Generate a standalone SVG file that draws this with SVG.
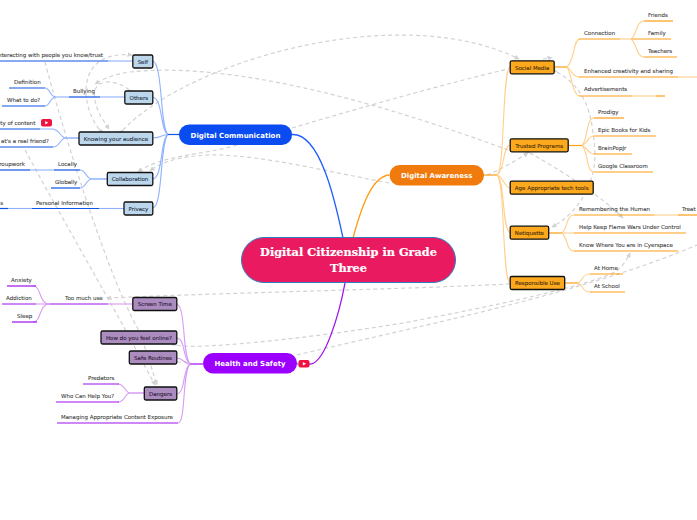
<svg xmlns="http://www.w3.org/2000/svg" width="697" height="520" viewBox="0 0 697 520">
<style>
text{font-family:"DejaVu Sans",sans-serif;font-size:5.5px;fill:#3a3a3a;stroke:#3a3a3a;stroke-width:.08}
.c{text-anchor:middle}
.box{stroke:#111;stroke-width:1.300}
.bl{fill:#bcd6ec}.pu{fill:#ab8cbf}.or{fill:#fca91e}
text.bt{fill:#1a2a3a;stroke:#1a2a3a}text.pt{fill:#2a1533;stroke:#2a1533}text.ot{fill:#40280a;stroke:#40280a}
text.main{font-size:7px;font-weight:bold;fill:#fff;stroke:none}
text.title{font-family:"DejaVu Serif",serif;font-size:11.300px;font-weight:bold;fill:#fff;stroke:#fff;stroke-width:.2}
#links path{fill:none;stroke:#d2d2d2;stroke-width:1.200;stroke-dasharray:4 3}
#conn path{fill:none;stroke-width:1.100}
.b{stroke:#8fb1ff}.p{stroke:#d79cf5}.o{stroke:#ffd08a}
.bu{stroke:#0f54e8!important;stroke-width:1.200!important}
.pl{stroke:#a010f0!important;stroke-width:1.200!important}
.ou{stroke:#ff9d14!important;stroke-width:1.200!important}
.yt{fill:#f0123f}
</style>
<defs>
<marker id="a" markerUnits="userSpaceOnUse" markerWidth="6" markerHeight="6" refX="4.500" refY="2.500" orient="auto"><path d="M0 0L5 2.500L0 5z" fill="#d2d2d2"/></marker>
</defs>
<g id="links">
<path d="M123 130C190 60 400 0 519 59" marker-start="url(#a)" marker-end="url(#a)"/>
<path d="M508 150C400 110 240 60 130 72C115 74 105 78 95 84" marker-end="url(#a)"/>
<path d="M292 128C360 108 440 85 508 69"/>
<path d="M389 183C320 170 240 150 195 156C175 158 160 163 150 171" marker-end="url(#a)"/>
<path d="M237 145C205 155 160 155 138 172" marker-end="url(#a)"/>
<path d="M99 129C80 105 75 50 132 55" marker-start="url(#a)" marker-end="url(#a)"/>
<path d="M129 90C115 78 90 78 95 100C97 112 103 120 109 129" marker-start="url(#a)" marker-end="url(#a)"/>
<path d="M45 62C60 120 105 270 137 327C145 345 152 370 157 385" marker-end="url(#a)"/>
<path d="M25 150L43 183L120 320L155 385" marker-end="url(#a)"/>
<path d="M510 284C380 290 250 292 107 298" marker-start="url(#a)" marker-end="url(#a)"/>
<path d="M297 355C400 330 580 295 697 245"/>
<path d="M177 345C190 350 300 340 403 323C500 305 590 285 615 272C622 267 627 260 630 253" marker-start="url(#a)" marker-end="url(#a)"/>
<path d="M177 362H190" marker-start="url(#a)"/>
<path d="M557 72C580 85 590 105 593 133C597 160 595 175 583 197C575 210 565 220 552 227" marker-start="url(#a)" marker-end="url(#a)"/>
<path d="M530 153C560 170 600 195 623 218" marker-start="url(#a)" marker-end="url(#a)"/>
<path d="M487 175C500 170 515 161 528 153" marker-end="url(#a)"/>
<path d="M543 59L552 57.500" marker-end="url(#a)"/>
</g>
<g id="conn">
<path d="M343 238C335 200 320 133 292 134.500" stroke="#1f5cff" style="stroke-width:1.300"/>
<path d="M353 238C362 205 372 177 389 175" stroke="#ff9d14" style="stroke-width:1.300"/>
<path d="M345 283C340 310 325 366 309 364" stroke="#a010f0" style="stroke-width:1.300"/>
<path d="M297 364H299" stroke="#a010f0"/>
<path class="bu" d="M168 134.500H179"/>
<path class="b" d="M153 61C163 65 160 130 168 134.500"/>
<path class="b" d="M153 97C163 100 160 130 168 134.500"/>
<path class="b" d="M153 138C160 138 162 134.500 168 134.500"/>
<path class="b" d="M153 179C163 177 160 140 168 134.500"/>
<path class="b" d="M153 208C163 206 160 140 168 134.500"/>
<path class="b" d="M108 61H132"/><path class="bu" d="M0 61H108"/>
<path class="b" d="M100 97H124"/><path class="bu" d="M69 97H100"/><path class="b" d="M56 97H69"/>
<path class="b" d="M56 97C50 97 50 88 45 88"/><path class="bu" d="M9 88H45"/>
<path class="b" d="M56 97C50 97 50 106 45 106"/><path class="bu" d="M2 106H45"/>
<path class="b" d="M79 138H66C60 138 60 129 52 129H40"/><path class="bu" d="M0 129H40"/>
<path class="b" d="M79 138H66C60 138 60 147 53 147"/><path class="bu" d="M0 147H53"/>
<path class="b" d="M107 179H92C86 179 86 170 80 170"/><path class="bu" d="M54 170H80"/><path class="b" d="M54 170H30"/><path class="bu" d="M0 170H30"/>
<path class="b" d="M107 179H92C86 179 86 188 80 188"/><path class="bu" d="M51 188H80"/>
<path class="b" d="M99 208.500H124"/><path class="bu" d="M32 208.500H99"/><path class="b" d="M32 208.500H8"/><path class="bu" d="M0 208.500H8"/>
<path class="pl" d="M190 364H203"/>
<path class="p" d="M177 304C186 308 182 355 190 364"/>
<path class="p" d="M177 338C186 340 182 358 190 364"/>
<path class="p" d="M177 358C183 358 184 364 190 364"/>
<path class="p" d="M177 394C186 392 182 370 190 364"/>
<path class="p" d="M178 423C186 423 182 372 190 364"/>
<path class="p" d="M108 304H132"/><path class="pl" d="M50 304H108"/>
<path class="p" d="M50 304C38 304 42 286 33 286"/><path class="pl" d="M7 286H36"/>
<path class="p" d="M50 304H36"/><path class="pl" d="M2 304H36"/>
<path class="p" d="M50 304C38 304 42 322 33 322"/><path class="pl" d="M12 322H37"/>
<path class="p" d="M144 393H130C125 393 125 384 118 384"/><path class="pl" d="M83 384H119"/>
<path class="p" d="M144 393H130C125 393 125 402 118 402"/><path class="pl" d="M56 402H119"/>
<path class="pl" d="M57 423H178"/>
<path class="ou" d="M484 175H497"/>
<path class="o" d="M497 175C505 170 502 70 510 67"/>
<path class="o" d="M497 175C505 170 502 148 510 145"/>
<path class="o" d="M497 175C503 176 504 187 510 188"/>
<path class="o" d="M497 175C505 180 502 230 510 232.500"/>
<path class="o" d="M497 175C505 180 502 280 510 283"/>
<path class="ou" d="M554 67H567"/>
<path class="o" d="M567 67C575 60 573 39 580 39"/>
<path class="o" d="M567 67C572 70 572 77 580 77"/>
<path class="o" d="M567 67C572 75 572 95 580 96"/>
<path class="ou" d="M579 39H620"/><path class="o" d="M620 39H631"/>
<path class="o" d="M631 39C637 35 636 21 644 21"/><path class="ou" d="M644 21H673"/>
<path class="ou" d="M631 39H671"/>
<path class="o" d="M631 39C637 43 636 57 644 57"/><path class="ou" d="M644 57H677"/>
<path class="ou" d="M579 77H678"/><path class="o" d="M678 77H697"/>
<path class="ou" d="M579 96H632"/><path class="o" d="M632 96H656"/><path class="ou" d="M656 96H665"/>
<path class="ou" d="M568 145.500H582"/>
<path class="o" d="M582 145.500C588 140 586 118 594 118"/>
<path class="o" d="M582 145.500C588 143 588 136 594 136"/>
<path class="o" d="M582 145.500C588 148 588 154 594 154"/>
<path class="o" d="M582 145.500C588 150 586 172 594 172"/>
<path class="ou" d="M594 118H624"/><path class="ou" d="M594 136H656"/><path class="ou" d="M594 154H632"/><path class="ou" d="M594 172H653"/>
<path class="ou" d="M549 233H562"/>
<path class="o" d="M562 233C568 228 566 215 574 215"/>
<path class="o" d="M562 233H574"/>
<path class="o" d="M562 233C568 238 566 251 574 251"/>
<path class="ou" d="M574 215H654"/><path class="o" d="M654 215H678"/><path class="ou" d="M678 215H697"/>
<path class="ou" d="M574 233H686"/>
<path class="ou" d="M574 251H678"/>
<path class="ou" d="M565 283H578"/>
<path class="o" d="M578 283C584 280 582 274 590 274"/>
<path class="o" d="M578 283C584 286 582 292 590 292"/>
<path class="ou" d="M590 274H623"/><path class="ou" d="M590 292H625"/>
</g>
<g id="central"><rect x="241.500" y="237.500" width="214" height="45" rx="22.500" fill="#e91a5f" stroke="#2b7fc0" stroke-width="1"/>
<text class="c title" x="348.500" y="255.500">Digital Citizenship in Grade</text>
<text class="c title" x="348.500" y="272">Three</text></g>
<g id="digital-communication"><rect x="179" y="124.500" width="113" height="20.500" rx="10" fill="#0a4cf0"/><text class="c main" x="235.500" y="137.500">Digital Communication</text></g>
<g id="digital-awareness"><rect x="389.500" y="165" width="94.500" height="20.500" rx="10" fill="#f17a0c"/><text class="c main" x="436.700" y="178">Digital Awareness</text></g>
<g id="health-safety"><rect x="203" y="353" width="94" height="20.500" rx="10" fill="#9b00ff"/><text class="c main" x="250" y="366">Health and Safety</text><rect x="298.500" y="360" width="11" height="7.500" rx="2" class="yt"/><path d="M302.800 362L306 363.700L302.800 365.500z" fill="#fff"/></g>
<g id="self"><rect class="box bl" x="132.800" y="55" width="20" height="13" rx="1.500"/><text class="c bt" x="142.800" y="63.800">Self</text></g>
<g id="others"><rect class="box bl" x="124.800" y="91" width="28" height="13" rx="1.500"/><text class="c bt" x="138.800" y="99.800">Others</text></g>
<g id="knowing"><rect class="box bl" x="79" y="132" width="73.800" height="13" rx="1.500"/><text class="c bt" x="115.900" y="140.800">Knowing your audience</text></g>
<g id="collaboration"><rect class="box bl" x="107.300" y="172.500" width="45.500" height="13" rx="1.500"/><text class="c bt" x="130" y="181.300">Collaboration</text></g>
<g id="privacy"><rect class="box bl" x="124" y="202" width="28.800" height="13" rx="1.500"/><text class="c bt" x="138.400" y="210.800">Privacy</text></g>
<g id="l-comm">
<text x="103" y="57" text-anchor="end">Interacting with people you know/trust</text>
<text x="73" y="93">Bullying</text>
<text x="14" y="84">Definition</text>
<text x="7" y="102">What to do?</text>
<text x="35.500" y="125" text-anchor="end">ity of content</text>
<rect x="41" y="119" width="11" height="7.500" rx="2" class="yt"/><path d="M45.200 121L48.300 122.700L45.200 124.500z" fill="#fff"/>
<text x="49" y="143" text-anchor="end">at's a real friend?</text>
<text x="25" y="166" text-anchor="end">roupwork</text>
<text x="58" y="166">Locally</text>
<text x="55" y="184">Globally</text>
<text x="3" y="205" text-anchor="end">s</text>
<text x="36" y="205">Personal Information</text>
</g>
<g id="screen-time"><rect class="box pu" x="132.800" y="297.500" width="44" height="13" rx="1.500"/><text class="c pt" x="154.800" y="306.300">Screen Time</text></g>
<g id="feel"><rect class="box pu" x="101" y="331" width="75.800" height="13" rx="1.500"/><text class="c pt" x="138.900" y="339.800">How do you feel online?</text></g>
<g id="safe"><rect class="box pu" x="129.300" y="351" width="47.500" height="13" rx="1.500"/><text class="c pt" x="153" y="359.800">Safe Routines</text></g>
<g id="dangers"><rect class="box pu" x="144.300" y="387" width="32.500" height="13" rx="1.500"/><text class="c pt" x="160.500" y="395.800">Dangers</text></g>
<g id="l-health">
<text x="65" y="300">Too much use</text>
<text x="11" y="282">Anxiety</text>
<text x="6" y="300">Addiction</text>
<text x="17" y="318">Sleep</text>
<text x="88" y="380">Predators</text>
<text x="61" y="398">Who Can Help You?</text>
<text x="61" y="419">Managing Appropriate Content Exposure</text>
</g>
<g id="social"><rect class="box or" x="510.200" y="60.800" width="44" height="13" rx="1.500"/><text class="c ot" x="532.200" y="69.600">Social Media</text></g>
<g id="trusted"><rect class="box or" x="510.200" y="138.800" width="58" height="13" rx="1.500"/><text class="c ot" x="539.200" y="147.600">Trusted Programs</text></g>
<g id="age"><rect class="box or" x="510.200" y="181.200" width="83" height="13" rx="1.500"/><text class="c ot" x="551.700" y="190">Age Appropriate tech tools</text></g>
<g id="netiquette"><rect class="box or" x="510.200" y="226.200" width="38.500" height="13" rx="1.500"/><text class="c ot" x="529.400" y="235">Netiquette</text></g>
<g id="responsible"><rect class="box or" x="510.200" y="276.500" width="54.500" height="13" rx="1.500"/><text class="c ot" x="537.400" y="285.300">Responsible Use</text></g>
<g id="l-aware">
<text x="584" y="35">Connection</text>
<text x="648" y="17">Friends</text>
<text x="648" y="35">Family</text>
<text x="648" y="53">Teachers</text>
<text x="584" y="73">Enhanced creativity and sharing</text>
<text x="584" y="91">Advertisements</text>
<text x="598" y="114">Prodigy</text>
<text x="598" y="132">Epic Books for Kids</text>
<text x="598" y="150">BrainPopJr</text>
<text x="598" y="168">Google Classroom</text>
<text x="579" y="211">Remembering the Human</text>
<text x="682" y="211">Treat</text>
<text x="579" y="229">Help Keep Flame Wars Under Control</text>
<text x="579" y="247">Know Where You are in Cyerspace</text>
<text x="594" y="270">At Home</text>
<text x="594" y="288">At School</text>
</g>
</svg>
